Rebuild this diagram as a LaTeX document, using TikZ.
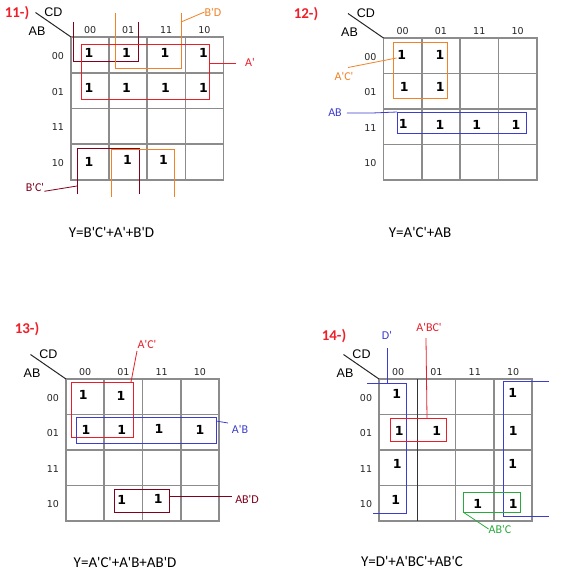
\documentclass[tikz,border=0pt]{standalone}
\usepackage{fontspec}
\newfontfamily\djv{DejaVu Sans}
\newfontfamily\crl{Carlito}
\newfontfamily\lib{Liberation Sans}
\definecolor{gridgray}{RGB}{140,140,140}
\definecolor{kdr}{RGB}{128,0,30}
\definecolor{kor}{RGB}{240,130,40}
\definecolor{kred}{RGB}{232,30,40}
\definecolor{kblue}{RGB}{60,60,205}
\definecolor{kgreen}{RGB}{40,170,60}
\definecolor{ttlred}{RGB}{240,30,40}
\tikzset{
  gridline/.style={draw=gridgray, line width=1.6pt, line cap=rect},
  one/.style={font=\djv\bfseries\fontsize{12.5}{14}\selectfont, inner sep=0pt},
  hdr/.style={font=\djv\fontsize{9.5}{11}\selectfont, text=black!85, inner sep=0pt},
  axl/.style={font=\lib\fontsize{12.5}{14}\selectfont, inner sep=0pt},
  ttl/.style={font=\crl\bfseries\fontsize{15}{18}\selectfont, text=ttlred, inner sep=0pt},
  eqn/.style={font=\crl\fontsize{15}{18}\selectfont, inner sep=0pt},
  lbl/.style={font=\crl\fontsize{12}{14}\selectfont, inner sep=0pt},
  kloop/.style={line width=1pt},
  kconn/.style={line width=0.8pt},
}
\newcommand\kmap[5]{%
  \foreach \i in {0,...,4} {
    \draw[gridline] ({#2+\i*#4},#3) -- ({#2+\i*#4},{#3+4*#5});
    \draw[gridline] (#2,{#3+\i*#5}) -- ({#2+4*#4},{#3+\i*#5});
  }
  \foreach \lab [count=\k from 0] in {00,01,11,10} {
    \node[hdr] (#1c\k) at ({#2+(\k+0.5)*#4},{#3-7.3}) {\lab};
    \node[hdr] (#1r\k) at ({#2-13},{#3+(\k+0.5)*#5+1}) {\lab};
  }
  \coordinate (#1o) at (#2,#3);
  \coordinate (#1d) at ({#2-35.5},{#3-24.5});
  \draw[line width=1pt, black!85] (#1d) -- (#1o);
  \node[axl] (#1CD) at ({#2-17.5},{#3-24.5}) {CD};
  \node[axl] (#1AB) at ({#2-34},{#3-6}) {AB};
}
\begin{document}
\begin{tikzpicture}[x=1pt,y=-1pt]
\useasboundingbox[fill=white] (0,0) rectangle (565,582);

% ---------- map 11 ----------
\kmap{a}{71}{37}{38.1}{35.75}
\node[ttl] (t11) at (17,13) {11-)};
\foreach \px/\py [count=\n] in {89/53,126.5/53,165/53,203.5/53,89/87.5,126.5/87.5,165.5/88,203.5/88,89/161.5,127.5/160,163.5/160}
  \node[one] (a1\n) at (\px,\py) {1};
\draw[kloop, kdr] (73,22) -- (73,61) -- (138,61) -- (138,22);
\draw[kloop, kdr] (77,194) -- (77,148) -- (139,148) -- (139,194);
\node[lbl, text=kdr] (l11a) at (35,187) {B'C'};
\coordinate (c11a) at (77,186);
\draw[kconn, kdr] (l11a.south east) -- (c11a);
\draw[kloop, kor] (115,13) -- (115,68) -- (181,68) -- (181,13);
\draw[kloop, kor] (111,197) -- (111,149) -- (174,149) -- (174,197);
\node[lbl, text=kor] (l11b) at (213,12) {B'D};
\coordinate (c11b) at (181,22);
\draw[kconn, kor] (c11b) -- (l11b.west);
\draw[kloop, kred] (81,44) rectangle (209,99);
\node[lbl, text=kred] (l11c) at (250,62) {A'};
\coordinate (c11c) at (209,63);
\coordinate (c11d) at (236,63);
\draw[kconn, kred] (c11c) -- (c11d);
\node[eqn] (e11) at (111.5,232) {Y=B'C'+A'+B'D};

% ---------- map 12 ----------
\kmap{b}{383.5}{38}{38.3}{35.5}
\node[ttl] (t12) at (306,14) {12-)};
\foreach \px/\py [count=\n] in {401.7/55,440/55,404.3/87,440.3/87,403.3/124,440/125,476.7/125,516/125}
  \node[one] (b1\n) at (\px,\py) {1};
\draw[kloop, kor] (393,42) rectangle (447,98);
\node[lbl, text=kor] (l12a) at (344,76) {A'C'};
\coordinate (c12a) at (396.5,58);
\coordinate (c12b) at (348,67.5);
\draw[kconn, kor] (c12a) -- (c12b);
\draw[kloop, kblue] (397,112) rectangle (526,133);
\node[lbl, text=kblue] (l12b) at (335,113) {AB};
\coordinate (c12c) at (372,113);
\coordinate (c12d) at (397,112);
\draw[kconn, kblue] ([xshift=5pt]l12b.east) -- (c12c) -- (c12d);
\node[eqn] (e12) at (420,232) {Y=A'C'+AB};

% ---------- map 13 ----------
\kmap{c}{66}{379}{38.25}{35.5}
\node[ttl] (t13) at (27,329) {13-)};
\foreach \px/\py [count=\n] in {83.3/395,121/396,86/430,121.7/430,159/429.3,200/430,121.7/500,158.3/499.3}
  \node[one] (c1\n) at (\px,\py) {1};
\draw[kloop, kred] (71,382) rectangle (133,437);
\node[lbl, text=kred] (l13a) at (147,344) {A'C'};
\coordinate (c13a) at (131,382);
\coordinate (c13b) at (137,351);
\draw[kconn, kred] (c13a) -- (c13b);
\draw[kloop, kblue] (76,417) rectangle (216,443);
\node[lbl, text=kblue] (l13b) at (240,429) {A'B};
\coordinate (c13c) at (216,421);
\coordinate (c13d) at (228,423);
\draw[kconn, kblue] (c13c) -- (c13d);
\draw[kloop, kdr] (114,489) rectangle (169,512);
\node[lbl, text=kdr] (l13c) at (247,499) {AB'D};
\coordinate (c13e) at (169,496);
\coordinate (c13f) at (232,496);
\draw[kconn, kdr] (c13e) -- (c13f);
\node[eqn] (e13) at (125,562) {Y=A'C'+A'B+AB'D};

% ---------- map 14 ----------
\kmap{d}{379}{379}{38.3}{35.5}
\draw[line width=1.4pt, black!80] (417.3,379) -- (417.3,521);
\node[ttl] (t14) at (334,336) {14-)};
\foreach \px/\py [count=\n] in {396.7/394,512.7/393.3,399.3/430.7,436.7/430.7,513.3/430.7,397.3/464,512.7/464,395.7/500,477.7/504,513.3/504}
  \node[one] (d1\n) at (\px,\py) {1};
\draw[kloop, kblue] (367,383) -- (406,383) -- (406,513) -- (373,513);
\draw[kloop, kblue] (549,381) -- (503,381) -- (503,516) -- (549,516);
\node[lbl, text=kblue] (l14a) at (387,335) {D'};
\coordinate (c14a) at (387,348);
\coordinate (c14b) at (387,383);
\draw[kconn, kblue] (c14a) -- (c14b);
\draw[kloop, kred] (390,418) rectangle (446,441);
\node[lbl, text=kred] (l14b) at (429,327) {A'BC'};
\coordinate (c14c) at (426,338);
\coordinate (c14d) at (427,418);
\draw[kconn, kred] (c14c) -- (c14d);
\draw[kloop, kgreen] (463,492) rectangle (520,512);
\node[lbl, text=kgreen] (l14c) at (500,529) {AB'C};
\coordinate (c14e) at (463,512);
\draw[kconn, kgreen] (c14e) -- (l14c.west);
\node[eqn] (e14) at (412,561) {Y=D'+A'BC'+AB'C};
\end{tikzpicture}
\end{document}
